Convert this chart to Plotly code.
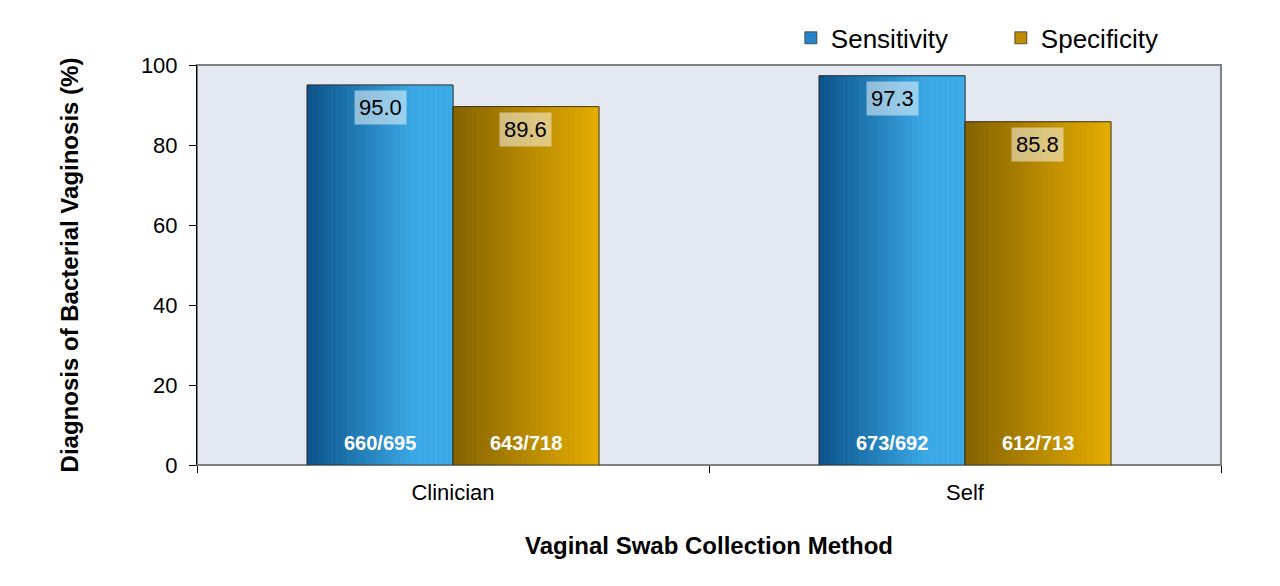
"""Sensitivity and specificity of BV diagnosis by vaginal swab collection method."""

import plotly.graph_objects as go

methods = ["Clinician", "Self"]
sensitivity = [95.0, 97.3]
specificity = [89.6, 85.8]
sens_counts = ["660/695", "673/692"]
spec_counts = ["643/718", "612/713"]

FONT = "Liberation Sans, Arial, sans-serif"
BAR_W = 0.285
N_STRIPS = 30


def lerp(stops, t):
    """Interpolate an rgb colour along (pos, (r, g, b)) stops."""
    for (p0, c0), (p1, c1) in zip(stops, stops[1:]):
        if t <= p1:
            f = (t - p0) / (p1 - p0) if p1 > p0 else 0
            r, g, b = (round(a + (b_ - a) * f) for a, b_ in zip(c0, c1))
            return f"rgb({r},{g},{b})"
    r, g, b = stops[-1][1]
    return f"rgb({r},{g},{b})"


blue_stops = [(0.0, (12, 82, 138)), (0.72, (58, 168, 228)), (1.0, (60, 172, 232))]
gold_stops = [(0.0, (132, 98, 0)), (1.0, (230, 174, 0))]

fig = go.Figure()


def add_series(name, values, offset, stops, legend_color):
    # solid base trace carries the legend entry
    fig.add_trace(go.Bar(
        x=methods, y=values, name=name, width=BAR_W, offset=offset,
        marker=dict(color=legend_color, line=dict(color="rgba(40,40,40,0.7)", width=1)),
        hoverinfo="skip",
    ))
    step = BAR_W / N_STRIPS
    for i in range(N_STRIPS):
        fig.add_trace(go.Bar(
            x=methods, y=values, width=step * 1.05, offset=offset + i * step,
            marker=dict(color=lerp(stops, (i + 0.5) / N_STRIPS), line=dict(width=0)),
            showlegend=False, hoverinfo="skip",
        ))
    # outline on top
    fig.add_trace(go.Bar(
        x=methods, y=values, width=BAR_W, offset=offset,
        marker=dict(color="rgba(0,0,0,0)", line=dict(color="rgba(45,40,30,0.75)", width=1)),
        showlegend=False, hovertemplate=name + ": %{y:.1f}<extra></extra>",
    ))


add_series("Sensitivity", sensitivity, -BAR_W, blue_stops, "rgb(40,130,200)")
add_series("Specificity", specificity, 0.0, gold_stops, "rgb(190,140,0)")

for idx, method in enumerate(methods):
    for val, count, dx in ((sensitivity[idx], sens_counts[idx], -BAR_W / 2),
                           (specificity[idx], spec_counts[idx], BAR_W / 2)):
        fig.add_annotation(
            x=idx + dx, y=val, yanchor="top", yshift=-5, text=f"{val:.1f}",
            showarrow=False, font=dict(family=FONT, size=22, color="black"),
            bgcolor="rgba(255,255,255,0.5)", borderpad=4,
        )
        fig.add_annotation(
            x=idx + dx, y=0, yanchor="bottom", yshift=9, text=f"<b>{count}</b>",
            showarrow=False, font=dict(family=FONT, size=20, color="white"),
        )

# grey frame round the plot area
fig.add_shape(type="rect", xref="paper", yref="paper", x0=0, y0=0, x1=1, y1=1,
              line=dict(color="#7f7f7f", width=2), layer="below")

# page body adds an 8px margin, so the figure margins are trimmed by that much
fig.update_layout(
    barmode="overlay",
    width=1280, height=586,
    margin=dict(l=189, r=67, t=57, b=129, autoexpand=False),
    paper_bgcolor="white",
    plot_bgcolor="#E4E9F1",
    font=dict(family=FONT, size=22, color="black"),
    showlegend=True,
    legend=dict(
        orientation="h", xref="container", yref="container",
        x=0.6116, y=0.949, xanchor="left", yanchor="middle",
        font=dict(size=26), entrywidth=165, entrywidthmode="pixels",
        bgcolor="rgba(0,0,0,0)", itemclick=False, itemdoubleclick=False,
    ),
)
fig.update_xaxes(
    type="category", range=[-0.5, 1.5], showline=False, automargin=False,
    ticks="outside", tickson="boundaries", ticklen=7, tickcolor="black",
    tickfont=dict(size=22), showgrid=False, ticklabelstandoff=12,
    title=dict(text="<b>Vaginal Swab Collection Method</b>", font=dict(size=24), standoff=33),
)
fig.update_yaxes(
    range=[0, 100], dtick=20, showline=True, linecolor="black", linewidth=1,
    ticks="outside", ticklen=7, tickcolor="black", tickfont=dict(size=22),
    showgrid=False, zeroline=False, automargin=False, ticklabelstandoff=7,
    title=dict(text="<b>Diagnosis of Bacterial Vaginosis (%)</b>", font=dict(size=24), standoff=55),
)

fig.write_html("out.html")
